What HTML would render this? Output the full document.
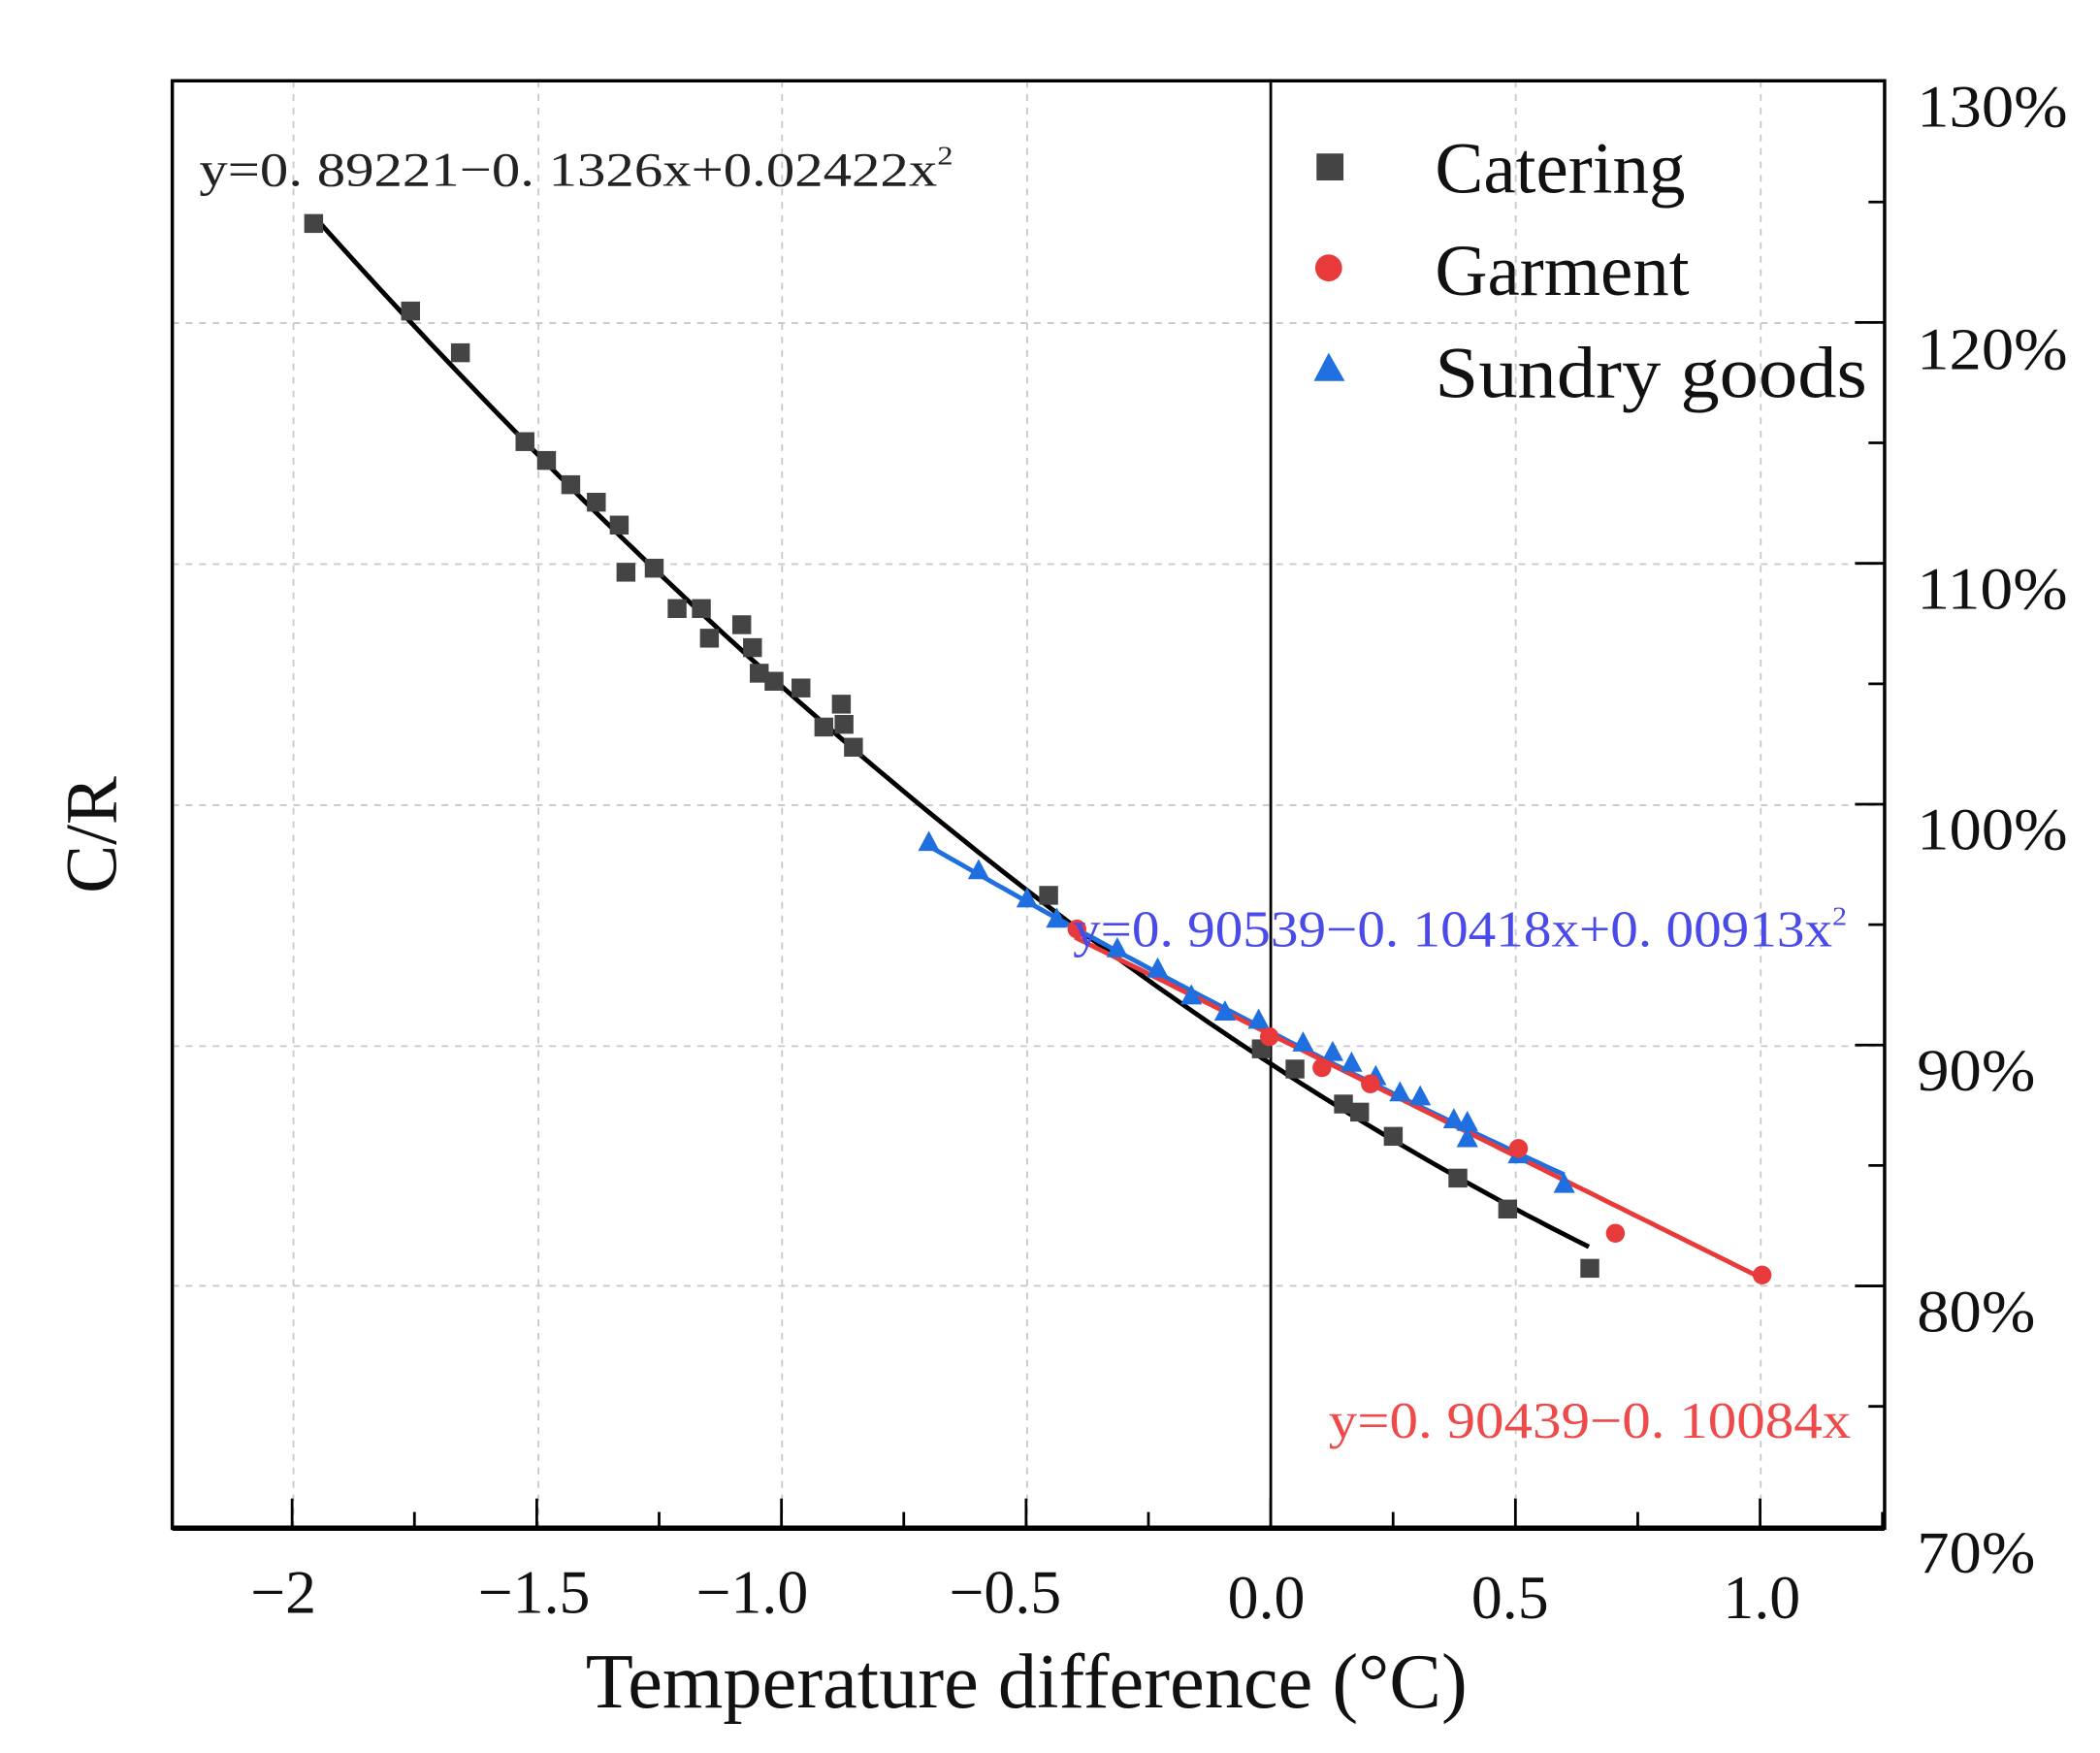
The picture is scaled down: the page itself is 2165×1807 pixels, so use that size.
<!DOCTYPE html>
<html><head><meta charset="utf-8"><style>
html,body{margin:0;padding:0;background:#fff;width:2165px;height:1807px;overflow:hidden}
svg{display:block}
text{font-family:"Liberation Serif","Noto Serif CJK SC",serif}
</style></head><body>
<svg id="s" width="2165" height="1807" viewBox="0 0 1560 1302" preserveAspectRatio="none" xmlns="http://www.w3.org/2000/svg">
<g stroke="#c8c8c8" stroke-width="1.3" stroke-dasharray="5,5" fill="none">
<line x1="218" y1="60" x2="218" y2="1134"/><line x1="400" y1="60" x2="400" y2="1134"/><line x1="581" y1="60" x2="581" y2="1134"/><line x1="763" y1="60" x2="763" y2="1134"/><line x1="1126" y1="60" x2="1126" y2="1134"/><line x1="1308" y1="60" x2="1308" y2="1134"/>
<line x1="128" y1="240" x2="1400" y2="240"/><line x1="128" y1="419" x2="1400" y2="419"/><line x1="128" y1="598" x2="1400" y2="598"/><line x1="128" y1="777" x2="1400" y2="777"/><line x1="128" y1="955" x2="1400" y2="955"/>
</g>
<rect x="128" y="60" width="1272" height="1075" fill="none" stroke="#000" stroke-width="2.5"/>
<line x1="128" y1="1135" x2="1400" y2="1135" stroke="#000" stroke-width="4"/>
<line x1="944" y1="60" x2="944" y2="1135" stroke="#000" stroke-width="2"/>
<g id="ticks" stroke="#000" stroke-width="2"></g>
<g id="curves" fill="none" stroke-width="3.5"></g>
<g id="pts"></g>
<g font-size="46" fill="#111">
<text x="186" y="1198">−2</text><text x="355" y="1198">−1.5</text><text x="517" y="1198">−1.0</text><text x="705" y="1198">−0.5</text>
<text x="912" y="1202">0.0</text><text x="1093" y="1202">0.5</text><text x="1280" y="1202">1.0</text>
</g>
<g font-size="44" fill="#111">
<text x="1424" y="94" textLength="112" lengthAdjust="spacingAndGlyphs">130%</text><text x="1424" y="274" textLength="112" lengthAdjust="spacingAndGlyphs">120%</text><text x="1424" y="452" textLength="112" lengthAdjust="spacingAndGlyphs">110%</text><text x="1424" y="631" textLength="112" lengthAdjust="spacingAndGlyphs">100%</text>
<text x="1424" y="810" textLength="88" lengthAdjust="spacingAndGlyphs">90%</text><text x="1424" y="989" textLength="88" lengthAdjust="spacingAndGlyphs">80%</text><text x="1424" y="1168" textLength="88" lengthAdjust="spacingAndGlyphs">70%</text>
</g>
<text x="435" y="1268" font-size="58" fill="#111" textLength="655" lengthAdjust="spacingAndGlyphs">Temperature difference (°C)</text>
<text transform="translate(86,620) rotate(-90)" font-size="54" text-anchor="middle" fill="#111">C/R</text>
<rect x="978" y="114" width="20" height="20" fill="#444"/>
<circle cx="987" cy="199" r="10" fill="#e83a3a"/>
<polygon points="987,262 976,283 999,283" fill="#1f6fe0"/>
<g font-size="54" fill="#111"><text x="1066" y="143">Catering</text><text x="1066" y="219">Garment</text><text x="1066" y="295" textLength="321" lengthAdjust="spacingAndGlyphs">Sundry goods</text></g>
<text x="148" y="138" font-size="36" fill="#222" textLength="560" lengthAdjust="spacingAndGlyphs">y=0. 89221−0. 1326x+0.02422x<tspan font-size="20" dy="-16">2</tspan></text>
<text x="797" y="703" font-size="38" fill="#4a4ae8" textLength="575" lengthAdjust="spacingAndGlyphs">y=0. 90539−0. 10418x+0. 00913x<tspan font-size="20" dy="-16">2</tspan></text>
<text x="987" y="1068" font-size="38" fill="#ee4a4a" textLength="388" lengthAdjust="spacingAndGlyphs">y=0. 90439−0. 10084x</text>
</svg>
<script>
var NS="http://www.w3.org/2000/svg";
function X(x){return 944+363.5*x}function Y(v){return 1134-(v-0.7)*1789}
function el(p,t,a){var e=document.createElementNS(NS,t);for(var k in a)e.setAttribute(k,a[k]);p.appendChild(e);return e}
var tk=document.getElementById('ticks');
for(var x=-2;x<=1.26;x+=0.25){var px=X(x);var big=Math.abs(x*2-Math.round(x*2))<1e-6;el(tk,'line',{x1:px,y1:1135,x2:px,y2:1135-(big?22:12)});}
for(var v=0.75;v<1.3;v+=0.05){var py=Y(v);var big=Math.abs(v*10-Math.round(v*10))<1e-6;el(tk,'line',{x1:1400,y1:py,x2:1400-(big?22:12),y2:py});}
var cv=document.getElementById('curves');
function curve(f,a,b,c){var d='';for(var i=0;i<=100;i++){var x=a+(b-a)*i/100;d+=(i?'L':'M')+X(x).toFixed(1)+','+Y(f(x)).toFixed(1);}el(cv,'path',{d:d,stroke:c});}
curve(function(x){return 0.89221-0.1326*x+0.02422*x*x},-1.95,0.65,'#000');
curve(function(x){return 0.90539-0.10418*x+0.00913*x*x},-0.7,0.6,'#1f6fe0');
curve(function(x){return 0.90439-0.10084*x},-0.4,1.0,'#e83a3a');
var pg=document.getElementById('pts');
var cat=[[233,166],[305,231],[342,262],[390,328],[406,342],[424,360],[443,373],[460,390],[465,425],[486,422],[503,452],[521,452],[527,474],[551,464],[559,481],[564,500],[575,506],[595,511],[612,540],[625,523],[627,538],[634,555],[779,665],[937,779],[962,794],[998,820],[1010,826],[1035,844],[1083,875],[1120,898],[1181,942]];
cat.forEach(function(p){el(pg,'rect',{x:p[0]-7,y:p[1]-7,width:14,height:14,fill:'#444'})});
var sun=[[690,626],[727,647],[763,668],[785,683],[830,705],[860,720],[885,740],[910,752],[935,758],[968,775],[990,782],[1004,790],[1022,800],[1040,812],[1055,815],[1080,832],[1090,834],[1090,846],[1128,858],[1162,880]];
sun.forEach(function(p){el(pg,'polygon',{points:(p[0])+','+(p[1]-9)+' '+(p[0]-8)+','+(p[1]+6)+' '+(p[0]+8)+','+(p[1]+6),fill:'#1f6fe0'})});
var gar=[[800,690],[943,770],[982,793],[1018,805],[1128,853],[1200,916],[1309,947]];
gar.forEach(function(p){el(pg,'circle',{cx:p[0],cy:p[1],r:7,fill:'#e83a3a'})});
</script>
</body></html>
